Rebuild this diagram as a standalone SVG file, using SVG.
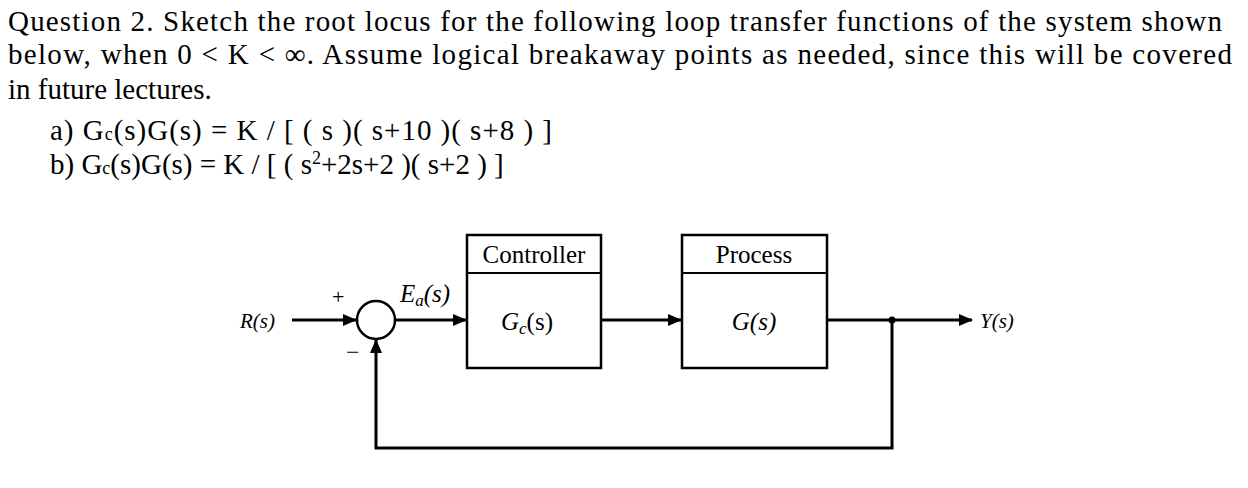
<svg xmlns="http://www.w3.org/2000/svg" width="1248" height="488" viewBox="0 0 1248 488">
<defs>
<marker id="ah" markerWidth="14" markerHeight="12" refX="13" refY="6" orient="auto" markerUnits="userSpaceOnUse"><path d="M0,0 L14,6 L0,12 Z" fill="#000"/></marker>
<style>
.t{font-family:"Liberation Serif",serif;font-size:29px;fill:#000}
.d{font-family:"Liberation Serif",serif;fill:#000}
.ln{stroke:#000;stroke-width:3;fill:none}
.bx{stroke:#000;stroke-width:2.5;fill:#fff}
</style>
</defs>
<rect width="1248" height="488" fill="#fff"/>
<g id="question">
<text class="t" x="8" y="31" textLength="1214" lengthAdjust="spacing">Question 2. Sketch the root locus for the following loop transfer functions of the system shown</text>
<text class="t" x="8" y="64" textLength="1224" lengthAdjust="spacing">below, when 0 &lt; K &lt; ∞. Assume logical breakaway points as needed, since this will be covered</text>
<text class="t" x="8" y="99">in future lectures.</text>
<text class="t" x="50" y="140" textLength="502" lengthAdjust="spacing">a)  G<tspan font-size="18">c</tspan>(s)G(s) = K / [ ( s )( s+10 )( s+8 ) ]</text>
<text class="t" x="50" y="174">b)  G<tspan font-size="18">c</tspan>(s)G(s) = K / [ ( s<tspan font-size="18" dy="-10">2</tspan><tspan dy="10">+2s+2 )( s+2 ) ]</tspan></text>
</g>
<g id="sum"><circle cx="376" cy="320" r="19" class="bx"/>
<text class="d" x="332" y="304" font-size="22">+</text>
<text class="d" x="346" y="360" font-size="24">−</text></g>
<g id="controller"><rect x="467" y="235" width="134" height="133" class="bx"/><line x1="467" y1="273" x2="601" y2="273" stroke="#000" stroke-width="2"/>
<text class="d" x="534" y="263" font-size="25" text-anchor="middle">Controller</text>
<text class="d" x="527" y="330" font-size="25" font-style="italic" text-anchor="middle">G<tspan font-size="17" dy="4">c</tspan><tspan dy="-4" font-style="normal">(s)</tspan></text></g>
<g id="process"><rect x="682" y="235" width="145" height="133" class="bx"/><line x1="682" y1="273" x2="827" y2="273" stroke="#000" stroke-width="2"/>
<text class="d" x="754" y="263" font-size="25" text-anchor="middle">Process</text>
<text class="d" x="754" y="330" font-size="25" font-style="italic" text-anchor="middle">G(s)</text></g>
<g id="labels">
<text class="d" x="240" y="328" font-size="21" font-style="italic">R(s)</text>
<text class="d" x="400" y="302" font-size="25" font-style="italic">E<tspan font-size="17" dy="4">a</tspan><tspan dy="-4">(s)</tspan></text>
<text class="d" x="980" y="328" font-size="21" font-style="italic">Y(s)</text>
</g>
<g id="connectors">
<line x1="292" y1="320" x2="356" y2="320" class="ln" marker-end="url(#ah)"/>
<line x1="395" y1="320" x2="466" y2="320" class="ln" marker-end="url(#ah)"/>
<line x1="601" y1="320" x2="681" y2="320" class="ln" marker-end="url(#ah)"/>
<line x1="827" y1="320" x2="972" y2="320" class="ln" marker-end="url(#ah)"/>
<path d="M892,320 V448 H376 V340" class="ln" marker-end="url(#ah)"/>
<circle cx="892" cy="320" r="3.5" fill="#000"/>
</g>
</svg>
